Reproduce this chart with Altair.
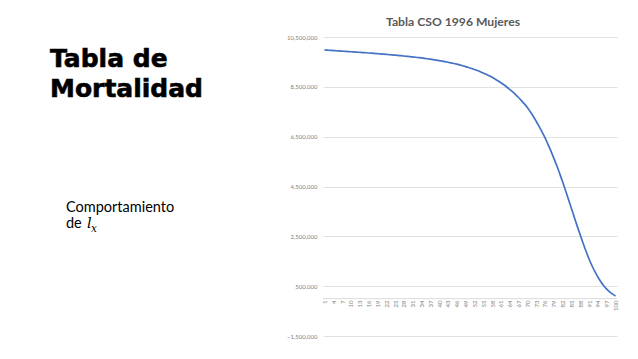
import altair as alt
import pandas as pd

ages = list(range(1, 101))
lx_millions = [
    9.980, 9.972, 9.964, 9.956, 9.948, 9.940, 9.932, 9.924, 9.916, 9.908,
    9.900, 9.892, 9.884, 9.876, 9.867, 9.858, 9.849, 9.840, 9.831, 9.822,
    9.812, 9.802, 9.792, 9.782, 9.771, 9.760, 9.749, 9.737, 9.725, 9.713,
    9.700, 9.687, 9.673, 9.659, 9.644, 9.628, 9.611, 9.593, 9.574, 9.554,
    9.533, 9.511, 9.488, 9.463, 9.437, 9.409, 9.379, 9.347, 9.313, 9.277,
    9.238, 9.197, 9.153, 9.106, 9.056, 9.002, 8.944, 8.882, 8.815, 8.743,
    8.665, 8.582, 8.493, 8.398, 8.296, 8.187, 8.071, 7.947, 7.815, 7.674,
    7.500, 7.320, 7.120, 6.910, 6.690, 6.460, 6.200, 5.930, 5.640, 5.340,
    5.020, 4.690, 4.340, 3.980, 3.620, 3.260, 2.900, 2.550, 2.210, 1.890,
    1.590, 1.320, 1.080, 0.870, 0.680, 0.520, 0.380, 0.270, 0.180, 0.110,
]
lx = [round(v * 1_000_000) for v in lx_millions]
x_tick_labels = list(range(1, 101, 3))
y_ticks = [-1500000, 500000, 2500000, 4500000, 6500000, 8500000, 10500000]

chart_title = "Tabla CSO 1996 Mujeres"
slide_title = ["Tabla de", "Mortalidad"]
body_text = ["Comportamiento", "de"]

df = pd.DataFrame({"age": ages, "lx": lx})
one = pd.DataFrame({"k": [0]})

GRAY = "#7f7f7f"

line = alt.Chart(df).mark_line(color="#4472C4", strokeWidth=1.7, interpolate="monotone").encode(
    x=alt.X("age:Q",
            scale=alt.Scale(domain=[0.5, 100.5], nice=False, zero=False),
            axis=alt.Axis(values=x_tick_labels, labelAngle=-90, offset=-38, grid=False,
                          ticks=False, domain=False, labelFontSize=6, labelColor=GRAY,
                          labelPadding=2, title=None, format="d", labelFlush=False,
                          labelOverlap=False, labelFont="Lato")),
    y=alt.Y("lx:Q",
            scale=alt.Scale(domain=[-1500000, 10500000], nice=False, zero=False),
            axis=alt.Axis(values=y_ticks, format=",.0f", grid=True, gridColor="#d9d9d9",
                          gridWidth=0.8, ticks=False, domain=False, labelFontSize=6,
                          labelPadding=6, labelColor=GRAY, title=None, labelFont="Lato")),
)

zero_rule = alt.Chart(one).mark_rule(color="#d0d0d0", strokeWidth=0.8).encode(y=alt.datum(0))


def txt(text, x, y, **kw):
    return alt.Chart(one).mark_text(text=text, align="left", baseline="alphabetic",
                                    color="#000000", **kw).encode(x=alt.value(x), y=alt.value(y))


title_mark = alt.Chart(one).mark_text(
    text=chart_title, font="Lato", fontWeight="bold", fontSize=12.2, color="#595959",
    align="center", baseline="middle"
).encode(x=alt.value(130), y=alt.value(-15))

big1 = txt(slide_title[0], -273, 29.7, font="DejaVu Sans", fontWeight="bold", fontSize=25,
           stroke="#000000", strokeWidth=0.6)
big2 = txt(slide_title[1], -273, 60.3, font="DejaVu Sans", fontWeight="bold", fontSize=25,
           stroke="#000000", strokeWidth=0.6)
body1 = txt(body_text[0], -257, 175.3, font="Lato", fontSize=14.5)
body2 = txt(body_text[1], -257, 191.3, font="Lato", fontSize=14.5)
ell = txt("l", -236, 191.3, font="DejaVu Serif", fontStyle="italic", fontSize=14.5)
sub_x = txt("x", -232, 194.5, font="DejaVu Serif", fontStyle="italic", fontSize=10.5)

chart = alt.layer(zero_rule, line, title_mark, big1, big2, body1, body2, ell, sub_x).properties(
    width=294, height=299,
    padding={"left": 315, "top": 29, "right": 5, "bottom": 5},
    autosize="none",
    background="white",
).configure_view(stroke=None)

chart.save("out.html", embed_options={"renderer": "svg", "actions": False})
